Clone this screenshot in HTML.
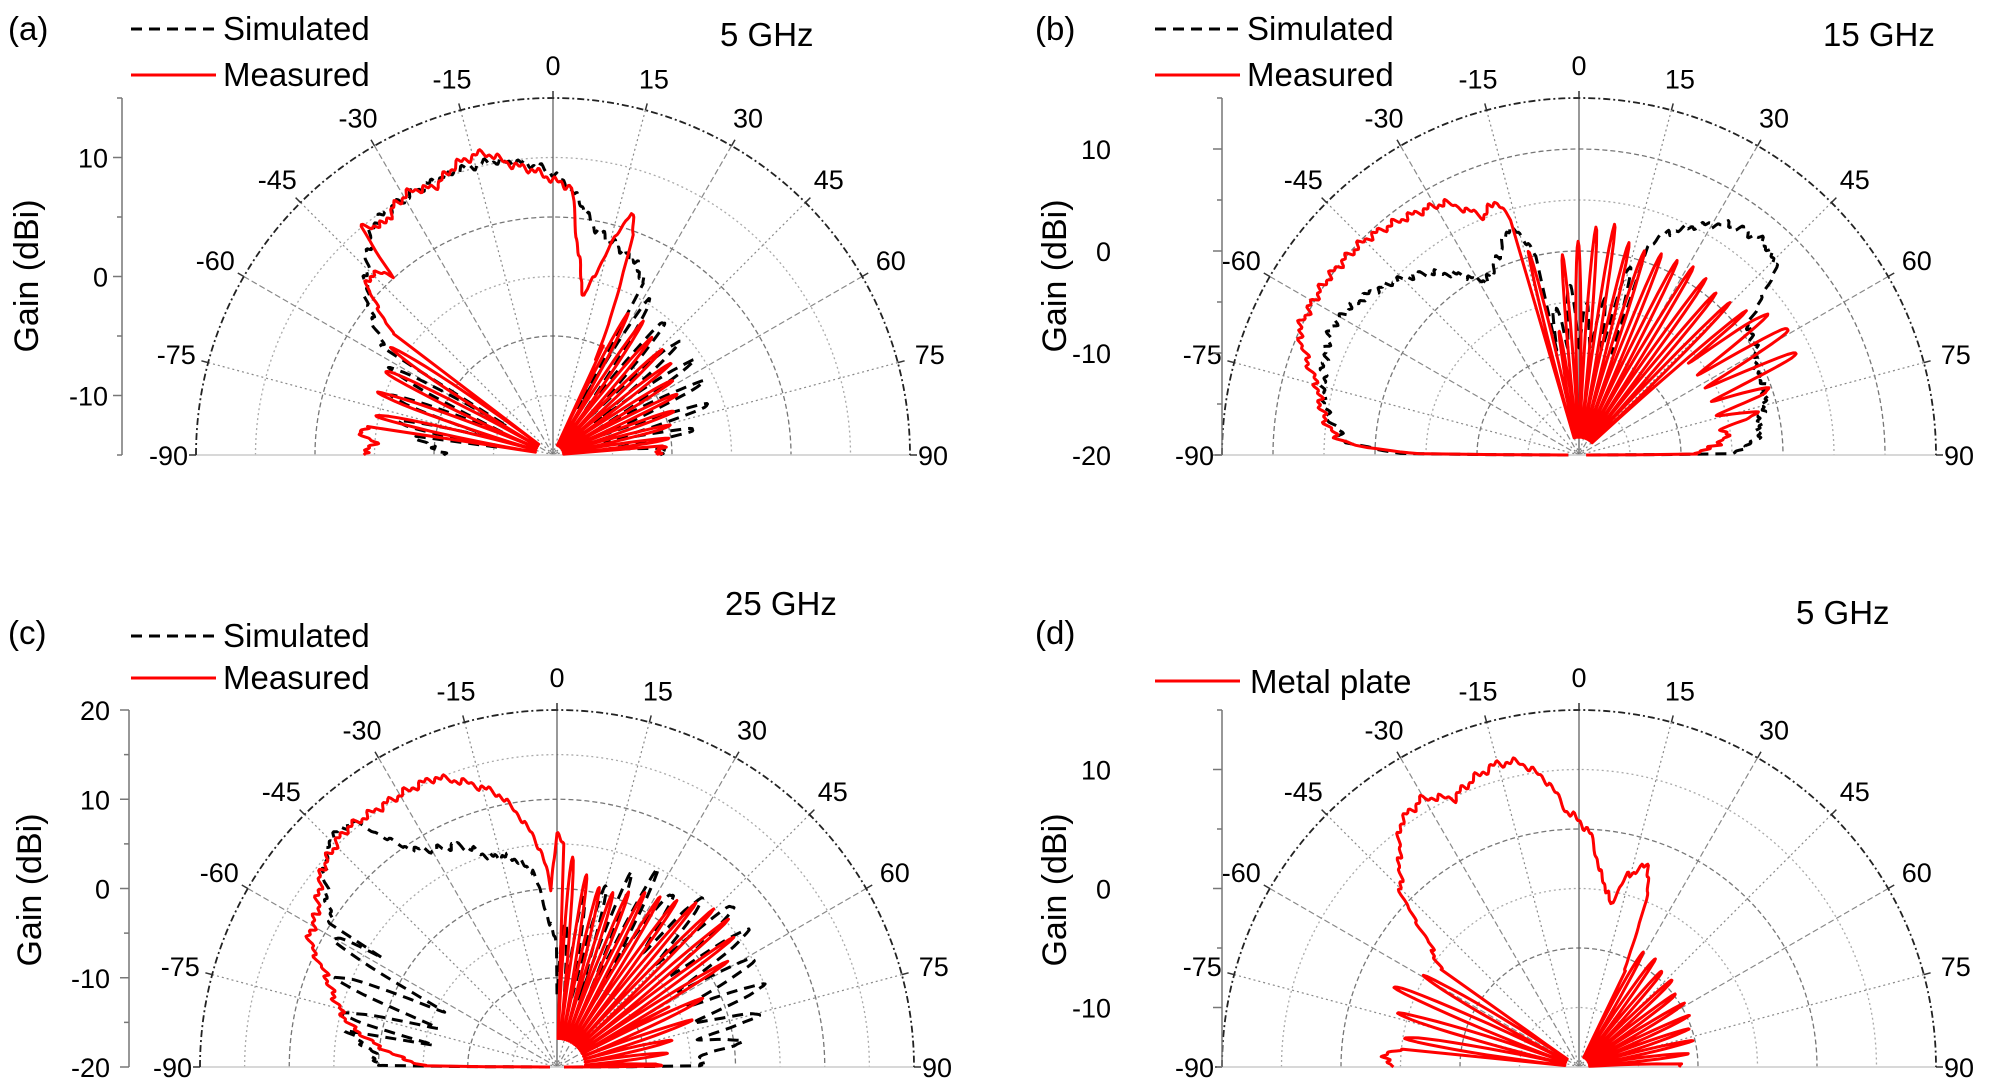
<!DOCTYPE html>
<html><head><meta charset="utf-8"><style>
html,body{margin:0;padding:0;background:#fff;}
svg{display:block;font-family:"Liberation Sans",Arial,sans-serif;}
</style></head><body>
<svg id="s" width="1995" height="1091" viewBox="0 0 1995 1091" xmlns="http://www.w3.org/2000/svg">
<rect width="1995" height="1091" fill="#fff"/>
<g font-size="33" fill="#000">
<text x="8" y="40">(a)</text>
<text x="1035" y="40">(b)</text>
<text x="8" y="644">(c)</text>
<text x="1035" y="644">(d)</text>
<text x="223" y="40">Simulated</text>
<text x="223" y="86">Measured</text>
<text x="1247" y="40">Simulated</text>
<text x="1247" y="86">Measured</text>
<text x="223" y="647">Simulated</text>
<text x="223" y="689">Measured</text>
<text x="1250" y="693">Metal plate</text>
<text x="720" y="46">5 GHz</text>
<text x="1823" y="46">15 GHz</text>
<text x="725" y="615">25 GHz</text>
<text x="1796" y="624">5 GHz</text>
</g>
<g stroke-width="3" fill="none">
<line x1="131" y1="29" x2="216" y2="29" stroke="#000" stroke-dasharray="11 7"/>
<line x1="131" y1="75" x2="216" y2="75" stroke="#f00"/>
<line x1="1155" y1="29" x2="1240" y2="29" stroke="#000" stroke-dasharray="11 7"/>
<line x1="1155" y1="75" x2="1240" y2="75" stroke="#f00"/>
<line x1="131" y1="636" x2="216" y2="636" stroke="#000" stroke-dasharray="11 7"/>
<line x1="131" y1="678" x2="216" y2="678" stroke="#f00"/>
<line x1="1155" y1="681" x2="1240" y2="681" stroke="#f00"/>
</g>
<g id="plots"></g>
</svg>
<script>
(function(){
var NS="http://www.w3.org/2000/svg",G=document.getElementById("plots");
function el(t,a,txt){var e=document.createElementNS(NS,t);for(var k in a)e.setAttribute(k,a[k]);if(txt!==undefined)e.textContent=txt;G.appendChild(e);return e;}
var R=357;
function rad(d){return d*Math.PI/180;}
function env(pts,t){for(var i=0;i<pts.length-1;i++){if(t>=pts[i][0]&&t<=pts[i+1][0]){var f=(t-pts[i][0])/(pts[i+1][0]-pts[i][0]);return pts[i][1]+f*(pts[i+1][1]-pts[i][1]);}}return pts[pts.length-1][1];}
function series(cx,cy,s,color,dash,seed){
 var d="";
 for(var t=-90;t<=90.001;t+=0.25){
  var r=env(s.e,t);
  var ed=(t>-89.4&&t<89.4);
  if(ed) r+=0.007*Math.sin(t*1.7+seed)+0.006*Math.sin(t*4.1+2*seed);
  (s.sp||[]).forEach(function(q){if(t>=q[0]&&t<=q[1]){var f=Math.pow(Math.abs(Math.sin(Math.PI*(t-q[0])/q[2])),1.6);r=q[3]+(r-q[3])*f;}});
  if(r<0.01)r=0.01;
  var x=cx+r*R*Math.sin(rad(t)),y=cy-r*R*Math.cos(rad(t));
  d+=(d?"L":"M")+x.toFixed(1)+","+y.toFixed(1);
 }
 var a={d:d,fill:"none",stroke:color,"stroke-width":3,"stroke-linejoin":"round"};
 if(dash)a["stroke-dasharray"]="11 7";
 el("path",a);
}
function panel(p){
 var cx=p.cx,cy=p.cy;
 for(var i=1;i<p.n;i++){var r=R*i/p.n;
  el("path",{d:"M"+(cx-r)+","+cy+"A"+r+","+r+" 0 0 1 "+(cx+r)+","+cy,fill:"none",stroke:i%2?"#aaa":"#777","stroke-width":1.3,"stroke-dasharray":i%2?"2 3":"5 3"});}
 for(var a=-75;a<=75;a+=15){el("line",{x1:cx,y1:cy,x2:cx+R*Math.sin(rad(a)),y2:cy-R*Math.cos(rad(a)),stroke:a==0?"#555":"#888","stroke-width":1.2,"stroke-dasharray":a==0?"":(Math.abs(a)%30?"2 3":"6 3")});}
 el("line",{x1:cx-R,y1:cy,x2:cx+R,y2:cy,stroke:"#ccc","stroke-width":1.5});
 el("path",{d:"M"+(cx-R)+","+cy+"A"+R+","+R+" 0 0 1 "+(cx+R)+","+cy,fill:"none",stroke:"#222","stroke-width":1.8,"stroke-dasharray":"7 3 2 3"});
 for(var a=-90;a<=90;a+=15){var c=Math.sin(rad(a)),s=Math.cos(rad(a));
  el("line",{x1:cx+R*c,y1:cy-R*s,x2:cx+(R+7)*c,y2:cy-(R+7)*s,stroke:"#333","stroke-width":1.5});
  var lr=R+(Math.abs(a)==90?0:33),lx=cx+lr*c,ly=cy-lr*s+10;
  if(a==-90)lx=cx-R-8; if(a==90)lx=cx+R+8;
  el("text",{x:lx,y:ly,"font-size":27,"text-anchor":a==-90?"end":(a==90?"start":"middle")},String(a));}
 var ax=p.ax;
 el("line",{x1:ax,y1:cy-R,x2:ax,y2:cy,stroke:"#777","stroke-width":1.5});
 var rng=p.max-p.min;
 for(var v=p.min;v<=p.max;v+=5){var y=cy-R*(v-p.min)/rng;var maj=(v%10==0);
  el("line",{x1:ax-(maj?9:5),y1:y,x2:ax,y2:y,stroke:"#777","stroke-width":1.5});
  if(maj&&p.lab.indexOf(v)>=0)el("text",{x:p.lx,y:y+10,"font-size":27,"text-anchor":"end"},String(v));}
 el("text",{x:p.gx,y:p.gy,"font-size":34,"text-anchor":"middle",transform:"rotate(-90 "+p.gx+" "+p.gy+")"},"Gain (dBi)");
 p.ser.forEach(function(s,k){series(cx,cy,s,s.c,s.dash,k+p.cx*0.01);});
}
var aRed={c:"#f00",e:[[-90,.53],[-86,.5],[-83,.55],[-80,.5],[-55,.55],[-52,.58],[-48,.7],[-45,.72],[-42,.68],[-40,.83],[-36,.8],[-32,.83],[-28,.84],[-24,.82],[-18,.86],[-13,.87],[-8,.82],[-4,.8],[0,.77],[4,.75],[6,.62],[9,.5],[11,.45],[14,.55],[18,.72],[20,.65],[24,.3],[27,.45],[60,.4],[80,.33],[90,.29]],sp:[[-81,-53,7,0.05],[25,85,6,0.03]]};
var aBlk={c:"#000",dash:1,e:[[-90,.3],[-85,.35],[-78,.45],[-60,.52],[-50,.68],[-44,.75],[-38,.82],[-30,.83],[-20,.84],[-12,.84],[-5,.82],[0,.79],[5,.73],[10,.65],[15,.62],[20,.6],[24,.58],[30,.52],[45,.48],[60,.47],[75,.45],[85,.35],[90,.3]],sp:[[-82,-58,8,0.15],[28,88,8,0.15]]};
var bRed={c:"#f00",e:[[-90,.03],[-89.5,.45],[-88,.6],[-86,.68],[-82,.72],[-75,.76],[-66,.86],[-55,.86],[-45,.85],[-35,.82],[-28,.8],[-22,.72],[-18,.75],[-14,.6],[-10,.3],[-5,.55],[0,.6],[5,.65],[10,.65],[15,.58],[20,.62],[30,.62],[40,.6],[50,.62],[57,.7],[65,.67],[72,.55],[78,.5],[85,.38],[89.5,.33],[90,.02]],sp:[[-16,50,4.5,0.05],[50,86,6,0.4]]};
var bBlk={c:"#000",dash:1,e:[[-90,.03],[-89.5,.5],[-87,.65],[-80,.72],[-70,.76],[-62,.78],[-52,.74],[-42,.68],[-35,.62],[-28,.55],[-22,.6],[-17,.67],[-13,.6],[-9,.4],[-5,.5],[0,.45],[5,.4],[10,.45],[15,.55],[20,.65],[27,.72],[33,.77],[40,.79],[46,.77],[52,.6],[58,.58],[65,.55],[72,.55],[78,.52],[85,.5],[89.5,.43],[90,.02]],sp:[[-12,18,6,0.3]]};
var cRed={c:"#f00",e:[[-90,.02],[-89.5,.37],[-86,.45],[-83,.51],[-78,.6],[-73,.65],[-68,.7],[-63,.78],[-57,.8],[-50,.86],[-42,.89],[-35,.88],[-28,.88],[-23,.88],[-17,.83],[-12,.78],[-8,.7],[-4,.6],[-2,.5],[0,.65],[3,.6],[8,.55],[15,.52],[22,.53],[30,.55],[40,.6],[52,.63],[58,.57],[65,.45],[72,.38],[78,.32],[85,.3],[89.5,.28],[90,.02]],sp:[[2,62,4.5,0.08],[62,88,6,0.08]]};
var cBlk={c:"#000",dash:1,e:[[-90,.02],[-89.5,.5],[-85,.52],[-80,.6],[-72,.62],[-65,.7],[-58,.74],[-50,.85],[-45,.9],[-40,.9],[-35,.75],[-30,.7],[-24,.68],[-18,.62],[-12,.6],[-7,.55],[-3,.4],[0,.35],[5,.45],[12,.5],[20,.58],[26,.62],[33,.58],[40,.62],[48,.68],[55,.66],[62,.63],[68,.62],[75,.58],[80,.56],[86,.45],[89.5,.4],[90,.02]],sp:[[-80,-58,8,0.35],[0,30,6,0.2],[30,88,7,0.4]]};
var dRed={c:"#f00",e:[[-90,.52],[-87,.55],[-84,.5],[-80,.5],[-70,.55],[-66,.57],[-60,.5],[-55,.47],[-50,.55],[-46,.69],[-42,.75],[-36,.85],[-30,.87],[-25,.83],[-20,.86],[-15,.88],[-11,.87],[-6,.8],[-3,.72],[0,.69],[3,.65],[6,.55],[9,.5],[11,.46],[14,.55],[19,.6],[22,.5],[25,.29],[30,.38],[50,.35],[70,.33],[85,.3],[90,.28]],sp:[[-84,-55,7,0.04],[26,88,6,0.03]]};
panel({cx:553,cy:455,n:6,min:-15,max:15,lab:[10,0,-10],ax:122,lx:108,gx:38,gy:276,ser:[aBlk,aRed]});
panel({cx:1579,cy:455,n:7,min:-20,max:15,lab:[10,0,-10,-20],ax:1222,lx:1111,gx:1066,gy:276,ser:[bBlk,bRed]});
panel({cx:557,cy:1067,n:8,min:-20,max:20,lab:[20,10,0,-10,-20],ax:129,lx:110,gx:41,gy:890,ser:[cBlk,cRed]});
panel({cx:1579,cy:1067,n:6,min:-15,max:15,lab:[10,0,-10],ax:1222,lx:1111,gx:1066,gy:890,ser:[dRed]});
})();
</script>
</body></html>
